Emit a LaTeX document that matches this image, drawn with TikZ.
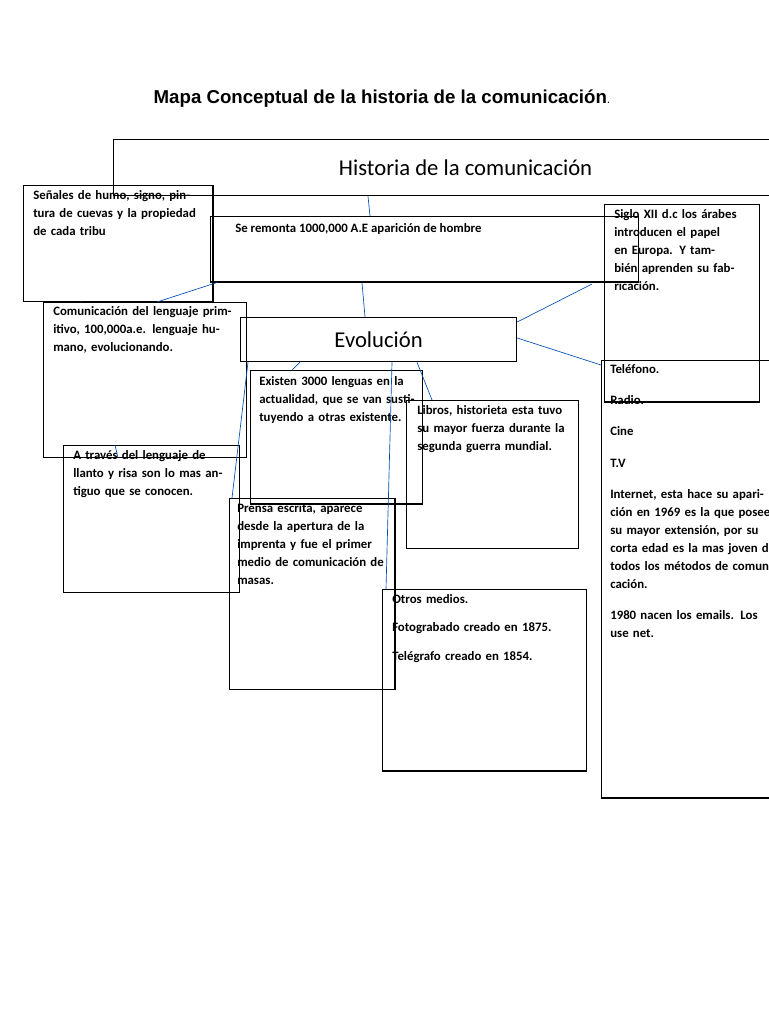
\documentclass[tikz,border=0pt]{standalone}
\usepackage{fontspec}
\setmainfont{Carlito}
\newfontfamily\titlefont{Liberation Sans}
\begin{document}
\begin{tikzpicture}[x=0.75pt,y=-0.75pt,
  box/.style={draw,line width=0.9pt,anchor=north west,inner sep=0pt},
  txt/.style={anchor=north west,align=left,inner sep=0pt,font=\fontsize{9.6pt}{13.5pt}\selectfont\bfseries},
  link/.style={draw=blue!55!cyan!70!black,line width=0.5pt}]
\useasboundingbox[fill=white] (0,0) rectangle (768,1024);
\node[font=\titlefont\fontsize{14pt}{16pt}\selectfont\bfseries] (title) at (382,99) {Mapa Conceptual de la historia de la comunicación\textmd{\fontsize{9pt}{10pt}\selectfont.}};
% boxes: name, x, y, w, h
\node[box,minimum width=528,minimum height=42] (hist) at (113,139) {};
\node[font=\fontsize{17pt}{20pt}\selectfont] at (hist.center) {Historia de la comunicación};
\node[box,minimum width=142,minimum height=87] (sen) at (23,185) {};
\node[txt,text width=130] at (33,190) {Señales de humo, signo, pintura de cuevas y la propiedad de cada tribu};
\node[box,minimum width=321,minimum height=49] (rem) at (210,216) {};
\node[txt] at (235,223) {Se remonta 1000,000 A.E aparición de hombre};
\node[box,minimum width=116,minimum height=148] (sig) at (604,204) {};
\node[txt,text width=100] at (614,209) {Siglo XII d.c los árabes introducen el papel en Europa. Y también aprenden su fabricación.};
\node[box,minimum width=152,minimum height=116] (com) at (43,302) {};
\node[txt,text width=140] at (53,306) {Comunicación del lenguaje primitivo, 100,000a.e. lenguaje humano, evolucionando.};
\node[box,minimum width=207,minimum height=33] (evo) at (240,317) {};
\node[font=\fontsize{17pt}{20pt}\selectfont] at (evo.center) {Evolución};
\node[box,minimum width=129,minimum height=100] (exi) at (250,370) {};
\node[txt,text width=120] at (259,376) {Existen 3000 lenguas en la actualidad, que se van sustituyendo a otras existente.};
\node[box,minimum width=129,minimum height=111] (lib) at (406,400) {};
\node[txt,text width=115] at (417,405) {Libros, historieta esta tuvo su mayor fuerza durante la segunda guerra mundial.};
\node[box,minimum width=138,minimum height=328] (tel) at (601,360) {};
\node[txt,text width=125] at (610,364) {Teléfono.\\[10pt]Radio.\\[10pt]Cine\\[10pt]T.V\\[10pt]Internet, esta hace su aparición en 1969 es la que posee su mayor extensión, por su corta edad es la mas joven de todos los métodos de comunicación.\\[10pt]1980 nacen los emails. Los use net.};
\node[box,minimum width=132,minimum height=110] (atr) at (63,445) {};
\node[txt,text width=124] at (73,450) {A través del lenguaje de llanto y risa son lo mas antiguo que se conocen.};
\node[box,minimum width=124,minimum height=143] (pre) at (229,498) {};
\node[txt,text width=118] at (237,503) {Prensa escrita, aparece desde la apertura de la imprenta y fue el primer medio de comunicación de masas.};
\node[box,minimum width=153,minimum height=136] (otr) at (382,589) {};
\node[txt,text width=140] at (392,594) {Otros medios.\\[8pt]Fotograbado creado en 1875.\\[8pt]Telégrafo creado en 1854.};
% connectors
\coordinate (sigend) at (592,284);
\draw[link] (hist.south -| 368,0) -- (rem.north -| 370,0);
\draw[link] (rem.south west -| 217,0) -- (com.north -| 157,0);
\draw[link] (sen.south -| 82,0) -- (com.north -| 81,0);
\draw[link] (rem.south -| 362,0) -- (evo.north -| 365,0);
\draw[link] (com.south -| 118,0) -- (atr.north -| 115,0);
\draw[link] (evo.east |- 0,322) -- (sigend);
\draw[link] (evo.east |- 0,338) -- (tel.west |- 0,365);
\draw[link] (evo.south -| 417,0) -- (lib.north -| 432,0);
\draw[link] (evo.south -| 392,0) -- (otr.north -| 386,0);
\draw[link] (evo.south -| 248,0) -- (pre.north -| 232,0);
\draw[link] (evo.south -| 300,0) -- (exi.north -| 292,0);
\end{tikzpicture}
\end{document}
